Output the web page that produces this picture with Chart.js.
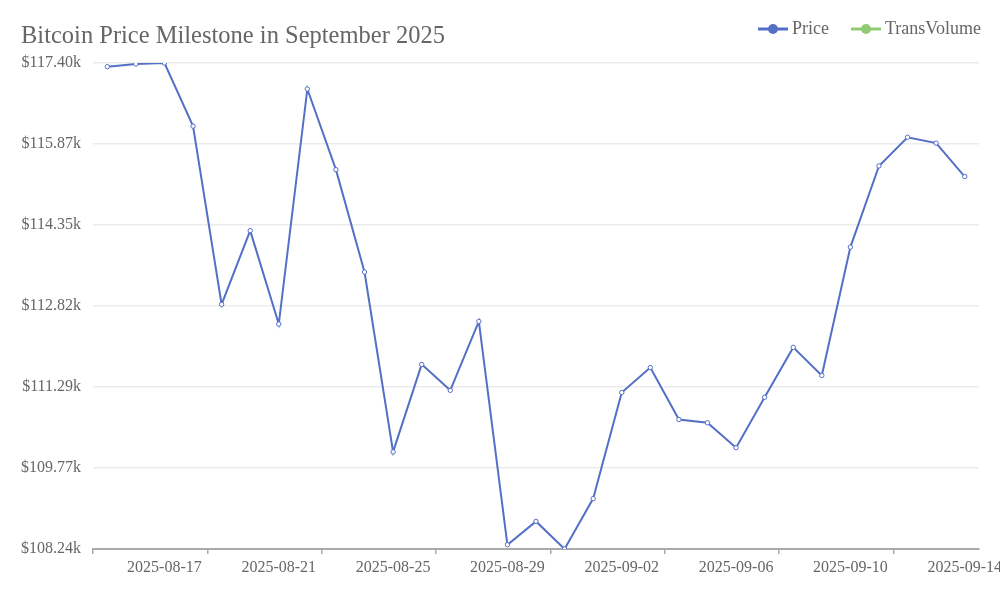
<!DOCTYPE html>
<html>
<head>
<meta charset="utf-8">
<title>Bitcoin Price Milestone in September 2025</title>
<script src="https://cdn.jsdelivr.net/npm/chart.js@4/dist/chart.umd.min.js"></script>
<style>
  html, body { margin: 0; padding: 0; background: #fff; }
  #wrap { position: relative; width: 1000px; height: 600px; }
  #chart-title {
    position: absolute; left: 21px; top: 23px; margin: 0;
    font: normal 24.5px/24px "Liberation Serif", serif; color: #666;
  }
</style>
</head>
<body>
<div id="wrap">
  <h1 id="chart-title">Bitcoin Price Milestone in September 2025</h1>
  <canvas id="price-chart"></canvas>
</div>
<script>
const dates = [
    "2025-08-15", "2025-08-16", "2025-08-17", "2025-08-18", "2025-08-19", "2025-08-20", "2025-08-21",
    "2025-08-22", "2025-08-23", "2025-08-24", "2025-08-25", "2025-08-26", "2025-08-27", "2025-08-28",
    "2025-08-29", "2025-08-30", "2025-08-31", "2025-09-01", "2025-09-02", "2025-09-03", "2025-09-04",
    "2025-09-05", "2025-09-06", "2025-09-07", "2025-09-08", "2025-09-09", "2025-09-10", "2025-09-11",
    "2025-09-12", "2025-09-13", "2025-09-14"
];
const priceValues = [
    117330, 117380, 117400, 116210, 112850, 114240, 112480,
    116910, 115390, 113460, 110070, 111720, 111230, 112530,
    108320, 108760, 108240, 109190, 111190, 111660, 110680,
    110620, 110150, 111100, 112040, 111510, 113930, 115460,
    116000, 115890, 115260
];
const transVolumeValues = [];
const yTickValues = [108240, 109767, 111293, 112820, 114347, 115873, 117400];

const fontFamily = '"Liberation Serif", serif';
const priceColor = '#5470c6';
const volumeColor = '#91cc75';

// legend icon: short line with a dot in the middle
const makeLegendIcon = (color) => {
    const c = document.createElement('canvas');
    c.width = 47;
    c.height = 14;
    const ctx = c.getContext('2d');
    ctx.strokeStyle = color;
    ctx.lineWidth = 3;
    ctx.beginPath();
    ctx.moveTo(17, 7);
    ctx.lineTo(47, 7);
    ctx.stroke();
    ctx.fillStyle = color;
    ctx.beginPath();
    ctx.arc(32, 7, 5, 0, Math.PI * 2);
    ctx.fill();
    return c;
};
const legendIcons = [makeLegendIcon(priceColor), makeLegendIcon(volumeColor)];

// push the plot down below the legend, and let the legend run to the right edge
const legendSpacing = {
    id: 'legendSpacing',
    beforeInit(chart) {
        const originalFit = chart.legend.fit;
        chart.legend.fit = function fit() {
            originalFit.bind(chart.legend)();
            this.height += 15;
        };
    },
    afterLayout(chart) {
        chart.legend.left += 12;
        chart.legend.right += 12;
    }
};

const priceCanvas = document.getElementById('price-chart');
let priceChart = new Chart(priceCanvas, {
    type: 'line',
    data: {
        labels: dates,
        datasets: [{
            label: 'Price',
            data: priceValues,
            borderColor: priceColor,
            backgroundColor: priceColor,
            borderWidth: 2,
            pointRadius: 2.2,
            pointBorderWidth: 1,
            pointBackgroundColor: '#fff',
            pointBorderColor: priceColor,
            tension: 0
        }, {
            label: 'TransVolume',
            data: transVolumeValues,
            borderColor: volumeColor,
            backgroundColor: volumeColor
        }]
    },
    options: {
        responsive: true,
        maintainAspectRatio: false,
        animation: false,
        layout: {
            padding: { top: 10, right: 21, bottom: 0, left: 0 }
        },
        scales: {
            x: {
                offset: true,
                grid: {
                    offset: true,
                    drawOnChartArea: false,
                    drawTicks: true,
                    tickLength: 5,
                    lineWidth: 1.5,
                    color: (ctx) => ctx.index % 4 === 0 ? '#aaa' : 'rgba(0,0,0,0)'
                },
                border: { display: true, color: '#aaa', width: 2 },
                ticks: {
                    autoSkip: false,
                    maxRotation: 0,
                    padding: 4,
                    color: '#666',
                    font: { family: fontFamily, size: 16 },
                    callback: function (value, index) {
                        return index % 4 === 2 ? this.getLabelForValue(value) : '';
                    }
                },
                afterFit: (scale) => {
                    scale.height = 51;
                    scale.paddingLeft = 0;
                    scale.paddingRight = 0;
                }
            },
            y: {
                min: Math.min(...priceValues),
                max: Math.max(...priceValues),
                afterBuildTicks: (scale) => {
                    scale.ticks = yTickValues.map(v => ({ value: v }));
                },
                grid: { color: '#ebebeb', lineWidth: 1.5, drawTicks: false },
                border: { display: false },
                ticks: {
                    padding: 12,
                    color: '#666',
                    font: { family: fontFamily, size: 16 },
                    callback: (v) => '$' + (v / 1000).toFixed(2) + 'k'
                },
                afterFit: (scale) => {
                    scale.width = 93;
                }
            }
        },
        plugins: {
            legend: {
                position: 'top',
                align: 'end',
                labels: {
                    usePointStyle: true,
                    pointStyleWidth: 37,
                    padding: 10,
                    color: '#666',
                    font: { family: fontFamily, size: 18 },
                    generateLabels: (chart) => {
                        const items = Chart.defaults.plugins.legend.labels.generateLabels(chart);
                        items.forEach((item, i) => { item.pointStyle = legendIcons[i]; });
                        return items;
                    }
                }
            },
            tooltip: { enabled: false }
        }
    },
    plugins: [legendSpacing]
});
</script>
</body>
</html>
